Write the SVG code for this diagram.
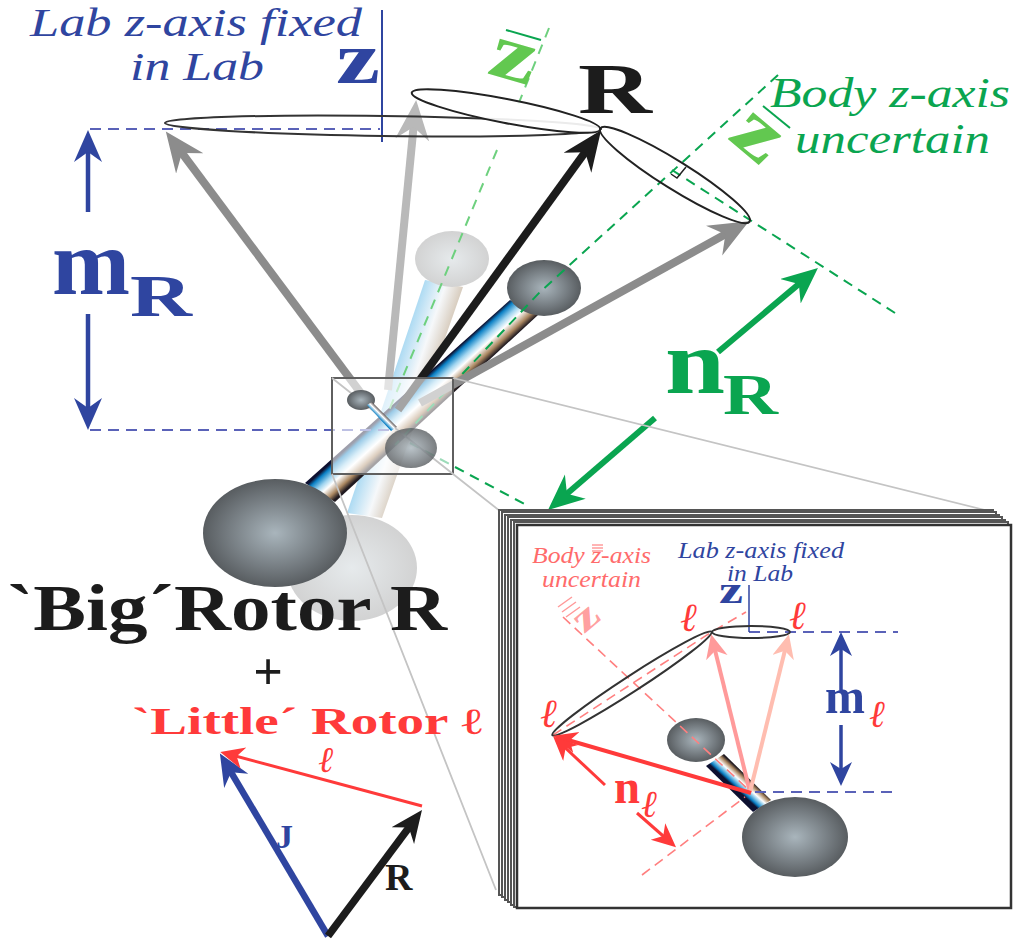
<svg xmlns="http://www.w3.org/2000/svg" width="1024" height="947" viewBox="0 0 1024 947">
<style>
text{font-family:"Liberation Serif","Times New Roman",serif}
.b{font-weight:bold}.i{font-style:italic}
.blue{fill:#2f45a0}.green{fill:#0aa550}.lg{fill:#62c850}.red{fill:#ff3a3a}.blk{fill:#1c1c1c}.pk{fill:#ff6b6b}
.dB{stroke:#5a62b8;stroke-width:2;stroke-dasharray:11 7;fill:none}
.dG{stroke:#0aa550;stroke-width:2;stroke-dasharray:10 7;fill:none}
.dLG{stroke:#6ed07e;stroke-width:2;stroke-dasharray:10 8;fill:none}
.dR{stroke:#ff7f7f;stroke-width:1.6;stroke-dasharray:10 6;fill:none}
.ell{fill:#fff;stroke:#222;stroke-width:2}
.ell0{fill:none;stroke:#333;stroke-width:2}
.gz{stroke:#c4c4c4;stroke-width:1.8;fill:none}
.fr{fill:#fff;stroke:#555;stroke-width:2}
</style>
<defs>
<radialGradient id="ball" cx=".5" cy=".5" r=".55"><stop offset="0" stop-color="#a9b5bc"/><stop offset=".6" stop-color="#747b80"/><stop offset="1" stop-color="#505457"/></radialGradient>
<radialGradient id="ballL" cx=".5" cy=".5" r=".55"><stop offset="0" stop-color="#e6eaec"/><stop offset="1" stop-color="#d0d0d0"/></radialGradient>
<linearGradient id="rod" gradientUnits="userSpaceOnUse" x1="510" y1="300" x2="530" y2="322"><stop offset="0" stop-color="#0d1030"/><stop offset=".12" stop-color="#0a7fc4"/><stop offset=".35" stop-color="#9fd4ef"/><stop offset=".55" stop-color="#fff"/><stop offset=".82" stop-color="#a98660"/><stop offset="1" stop-color="#201a20"/></linearGradient>
<linearGradient id="rodL" gradientUnits="userSpaceOnUse" x1="425" y1="280" x2="461" y2="292"><stop offset="0" stop-color="#aedbf3"/><stop offset=".55" stop-color="#f6f8fa"/><stop offset="1" stop-color="#d8cdbf"/></linearGradient>
<linearGradient id="rodS" gradientUnits="userSpaceOnUse" x1="709" y1="764" x2="720" y2="752"><stop offset="0" stop-color="#0d1030"/><stop offset=".15" stop-color="#0a7fc4"/><stop offset=".4" stop-color="#9fd4ef"/><stop offset=".55" stop-color="#fff"/><stop offset=".82" stop-color="#a98660"/><stop offset="1" stop-color="#201a20"/></linearGradient>
<linearGradient id="rodT" gradientUnits="userSpaceOnUse" x1="379.500" y1="418.500" x2="384.500" y2="413.500"><stop offset="0" stop-color="#0a7fc4"/><stop offset=".5" stop-color="#fff"/><stop offset="1" stop-color="#3a3030"/></linearGradient>
<marker id="aGrey" markerUnits="userSpaceOnUse" markerWidth="42" markerHeight="36" refX="28" refY="17" orient="auto"><path d="M0 0L40 17L0 34L13 17Z" fill="#8c8c8c"/></marker>
<marker id="aLight" markerUnits="userSpaceOnUse" markerWidth="42" markerHeight="36" refX="28" refY="17" orient="auto"><path d="M0 0L40 17L0 34L13 17Z" fill="#b9b9b9"/></marker>
<marker id="aBlack" markerUnits="userSpaceOnUse" markerWidth="42" markerHeight="36" refX="28" refY="17" orient="auto"><path d="M0 0L40 17L0 34L13 17Z" fill="#1c1c1c"/></marker>
<marker id="aBlackM" markerUnits="userSpaceOnUse" markerWidth="34" markerHeight="30" refX="22" refY="14" orient="auto"><path d="M0 0L32 14L0 28L10 14Z" fill="#1c1c1c"/></marker>
<marker id="aBlue" markerUnits="userSpaceOnUse" markerWidth="34" markerHeight="30" refX="22" refY="14" orient="auto"><path d="M0 0L32 14L0 28L10 14Z" fill="#2f45a0"/></marker>
<marker id="aGreen" markerUnits="userSpaceOnUse" markerWidth="38" markerHeight="34" refX="26" refY="16" orient="auto"><path d="M0 0L36 16L0 32L11 16Z" fill="#0aa550"/></marker>
<marker id="aRed" markerUnits="userSpaceOnUse" markerWidth="26" markerHeight="24" refX="16" refY="11" orient="auto"><path d="M0 0L24 11L0 22L7 11Z" fill="#ff3a3a"/></marker>
<marker id="aPink" markerUnits="userSpaceOnUse" markerWidth="26" markerHeight="24" refX="16" refY="11" orient="auto"><path d="M0 0L24 11L0 22L7 11Z" fill="#ff9a9a"/></marker>
<marker id="aPale" markerUnits="userSpaceOnUse" markerWidth="26" markerHeight="24" refX="16" refY="11" orient="auto"><path d="M0 0L24 11L0 22L7 11Z" fill="#ffbdb0"/></marker>
<marker id="aB2" markerUnits="userSpaceOnUse" markerWidth="26" markerHeight="24" refX="16" refY="11" orient="auto"><path d="M0 0L24 11L0 22L7 11Z" fill="#2f45a0"/></marker>
</defs>
<rect width="1024" height="947" fill="#fff"/>

<g id="ghost-rotor">
<path d="M425 280L463 287L382 518L347 513Z" fill="url(#rodL)"/>
<ellipse cx="452" cy="259" rx="37" ry="28" fill="url(#ballL)"/>
<ellipse cx="352" cy="568" rx="65" ry="53" fill="url(#ballL)"/>
</g>
<g id="main-rotor">
<path d="M510 300L538 315L335 502L305 483Z" fill="url(#rod)"/>
<ellipse cx="544" cy="288" rx="37" ry="28" fill="url(#ball)"/>
<ellipse cx="275" cy="533" rx="72" ry="54" fill="url(#ball)"/>
</g>

<g id="connectors">
<path class="dB" d="M90 129H380"/>
<path class="dB" d="M90 430H395"/>
<path class="dLG" d="M549 28L518 105M497 150L385 420"/>
<path class="dG" d="M778 75L540 292L395 445"/>
<path class="dG" d="M672 170L895 313"/>
<path class="dG" d="M410 443L530 507"/>
<path d="M382 10V142" stroke="#2f45a0" stroke-width="2" fill="none"/>
<path d="M506 30L541 40" stroke="#0aa550" stroke-width="2"/>
<path d="M763 106L790 128" stroke="#0aa550" stroke-width="2"/>

<path d="M366 400L173 141" stroke="#8c8c8c" stroke-width="8" marker-end="url(#aGrey)"/>
<path d="M388 390L415 112" stroke="#b9b9b9" stroke-width="8" marker-end="url(#aLight)"/>
<path d="M398 410L594 140" stroke="#1c1c1c" stroke-width="8" marker-end="url(#aBlack)"/>
<path d="M420 403L738.500 227" stroke="#8c8c8c" stroke-width="8" marker-end="url(#aGrey)"/>

<path d="M88 212V140" stroke="#2f45a0" stroke-width="4.500" marker-end="url(#aBlue)"/>
<path d="M88 314V420" stroke="#2f45a0" stroke-width="4.500" marker-end="url(#aBlue)"/>
<path d="M718 352L810.300 274.400" stroke="#0aa550" stroke-width="6" marker-end="url(#aGreen)"/>
<path d="M655 418L555.600 503.500" stroke="#0aa550" stroke-width="6" marker-end="url(#aGreen)"/>

<ellipse class="ell0" cx="383" cy="126" rx="218" ry="10" transform="rotate(.8 383 126)"/>
<ellipse class="ell" cx="506" cy="111" rx="96" ry="12" transform="rotate(11 506 111)" style="fill:#fff;fill-opacity:.9"/>
<ellipse class="ell" cx="675" cy="175" rx="88" ry="14" transform="rotate(32 675 175)" style="fill:none"/>
<path d="M671 174L677 178L686 167" stroke="#222" stroke-width="1.500" fill="none"/>

<path d="M328 936L225 762" stroke="#2f45a0" stroke-width="6.500" marker-end="url(#aBlue)"/>
<path d="M328 936L416 818" stroke="#1c1c1c" stroke-width="7.500" marker-end="url(#aBlackM)"/>
<path d="M422 806L228 754" stroke="#ff3a3a" stroke-width="3" marker-end="url(#aRed)"/>
</g>

<g id="magnifier">
<rect x="332" y="378" width="121" height="96" fill="#fff" fill-opacity=".6" stroke="#5f5f5f" stroke-width="2"/>
<path d="M453 378L985 510M332 474L496 890M332 378L453 474L505 515" class="gz"/>
<ellipse cx="361" cy="400" rx="14" ry="10" fill="url(#ball)"/>
<path d="M367 405L372 402L397 427L391 431Z" fill="url(#rodT)"/>
<ellipse cx="411" cy="448" rx="26" ry="20" fill="url(#ball)" fill-opacity=".8"/>
</g>

<g id="inset">
<rect class="fr" x="499" y="510" width="494" height="385"/>
<rect class="fr" x="502" y="512" width="494" height="385"/>
<rect class="fr" x="505" y="515" width="494" height="385"/>
<rect class="fr" x="508" y="517" width="494" height="385"/>
<rect class="fr" x="511" y="520" width="494" height="385"/>
<rect class="fr" x="514" y="522" width="494" height="385"/>
<rect x="517" y="525" width="494" height="383" fill="#fff" stroke="#333" stroke-width="2.500"/>

<path d="M706 766L724 754L771 800L753 812Z" fill="url(#rodS)"/>
<ellipse cx="696" cy="740" rx="29" ry="22" fill="url(#ball)"/>
<ellipse cx="795" cy="837" rx="53" ry="40" fill="url(#ball)"/>

<path class="dB" d="M749 632H898"/>
<path class="dB" d="M755 792H896"/>
<path class="dR" d="M563 617L751 792"/>
<path class="dR" d="M642 875L745 797"/>
<path class="dR" d="M553 735L710 633L746 612"/>
<path d="M749 585V632" stroke="#2f45a0" stroke-width="1.500" fill="none"/>
<ellipse class="ell0" cx="751" cy="632" rx="39" ry="6"/>
<ellipse class="ell0" cx="632" cy="683.500" rx="95" ry="8" transform="rotate(-33 632 683.500)"/>

<path d="M750 792L713 642" stroke="#ff9a9a" stroke-width="4" marker-end="url(#aPink)"/>
<path d="M750 792L787 642" stroke="#ffbdb0" stroke-width="4" marker-end="url(#aPale)"/>
<path d="M751 793L561 738" stroke="#ff3a3a" stroke-width="4" marker-end="url(#aRed)"/>
<path d="M605 785L559 742" stroke="#ff3a3a" stroke-width="3" marker-end="url(#aRed)"/>
<path d="M637 813L670 842" stroke="#ff3a3a" stroke-width="3" marker-end="url(#aRed)"/>
<path d="M841 690V640" stroke="#2f45a0" stroke-width="3.500" marker-end="url(#aB2)"/>
<path d="M841 725V778" stroke="#2f45a0" stroke-width="3.500" marker-end="url(#aB2)"/>
<path d="M592 545H603M592 548H603M592 551H603" stroke="#ff6b6b" stroke-width="1"/>
<path d="M558 607L572 597M562 612L576 602M566 617L580 607" stroke="#ff9a9a" stroke-width="1.500" fill="none"/>
</g>

<g id="labels">
<text class="i blue" x="30" y="36" font-size="39" textLength="332" lengthAdjust="spacingAndGlyphs">Lab z-axis fixed</text>
<text class="i blue" x="130" y="80" font-size="39" textLength="134" lengthAdjust="spacingAndGlyphs">in Lab</text>
<text class="b blue" x="336" y="83" font-size="75" textLength="44" lengthAdjust="spacingAndGlyphs">z</text>
<text class="b lg" transform="translate(513 61) rotate(16)" y="19" font-size="80" text-anchor="middle" textLength="46" lengthAdjust="spacingAndGlyphs">z</text>
<text class="b blk" x="578" y="113" font-size="72" textLength="74" lengthAdjust="spacingAndGlyphs">R</text>
<text class="i green" x="770" y="107" font-size="42" textLength="240" lengthAdjust="spacingAndGlyphs">Body z-axis</text>
<text class="i green" x="795" y="153" font-size="42" textLength="195" lengthAdjust="spacingAndGlyphs">uncertain</text>
<text class="b lg" transform="translate(756 138) rotate(40)" y="19" font-size="80" text-anchor="middle" textLength="46" lengthAdjust="spacingAndGlyphs">z</text>
<text class="b blue" x="52" y="294" font-size="94" textLength="78" lengthAdjust="spacingAndGlyphs">m</text>
<text class="b blue" x="130" y="316" font-size="60" textLength="62" lengthAdjust="spacingAndGlyphs">R</text>
<text class="b green" x="665" y="393" font-size="90" textLength="60" lengthAdjust="spacingAndGlyphs">n</text>
<text class="b green" x="723" y="414" font-size="58" textLength="55" lengthAdjust="spacingAndGlyphs">R</text>
<text class="b blk" x="7" y="630" font-size="66" textLength="440" lengthAdjust="spacingAndGlyphs">`Big´Rotor R</text>
<text class="b blk" x="268" y="689" font-size="52" text-anchor="middle">+</text>
<text class="b red" x="132" y="734" font-size="37" textLength="350" lengthAdjust="spacingAndGlyphs">`Little´ Rotor ℓ</text>
<text class="i red" x="318" y="772" font-size="36">ℓ</text>
<text class="b blue" x="276" y="848" font-size="34">J</text>
<text class="b blk" x="385" y="890" font-size="38">R</text>

<text class="i pk" x="532" y="563" font-size="23" textLength="119" lengthAdjust="spacingAndGlyphs">Body z-axis</text>
<text class="i pk" x="542" y="587" font-size="23" textLength="99" lengthAdjust="spacingAndGlyphs">uncertain</text>
<text class="i blue" x="678" y="558" font-size="23" textLength="166" lengthAdjust="spacingAndGlyphs">Lab z-axis fixed</text>
<text class="i blue" x="727" y="581" font-size="23" textLength="66" lengthAdjust="spacingAndGlyphs">in Lab</text>
<text class="b blue" x="719" y="603" font-size="38" textLength="24" lengthAdjust="spacingAndGlyphs">z</text>
<text class="b" fill="#ffa0a0" transform="translate(586 618) rotate(-40)" y="11" font-size="40" text-anchor="middle" textLength="24" lengthAdjust="spacingAndGlyphs">z</text>
<text class="i red" x="680" y="631" font-size="40">ℓ</text>
<text class="i red" x="789" y="629" font-size="40">ℓ</text>
<text class="i red" x="540" y="727" font-size="40">ℓ</text>
<text class="b blue" x="825" y="713" font-size="50" textLength="40" lengthAdjust="spacingAndGlyphs">m</text>
<text class="i red" x="869" y="727" font-size="38">ℓ</text>
<text class="b red" x="614" y="803" font-size="48" textLength="26" lengthAdjust="spacingAndGlyphs">n</text>
<text class="i red" x="641" y="817" font-size="38">ℓ</text>
</g>
</svg>
